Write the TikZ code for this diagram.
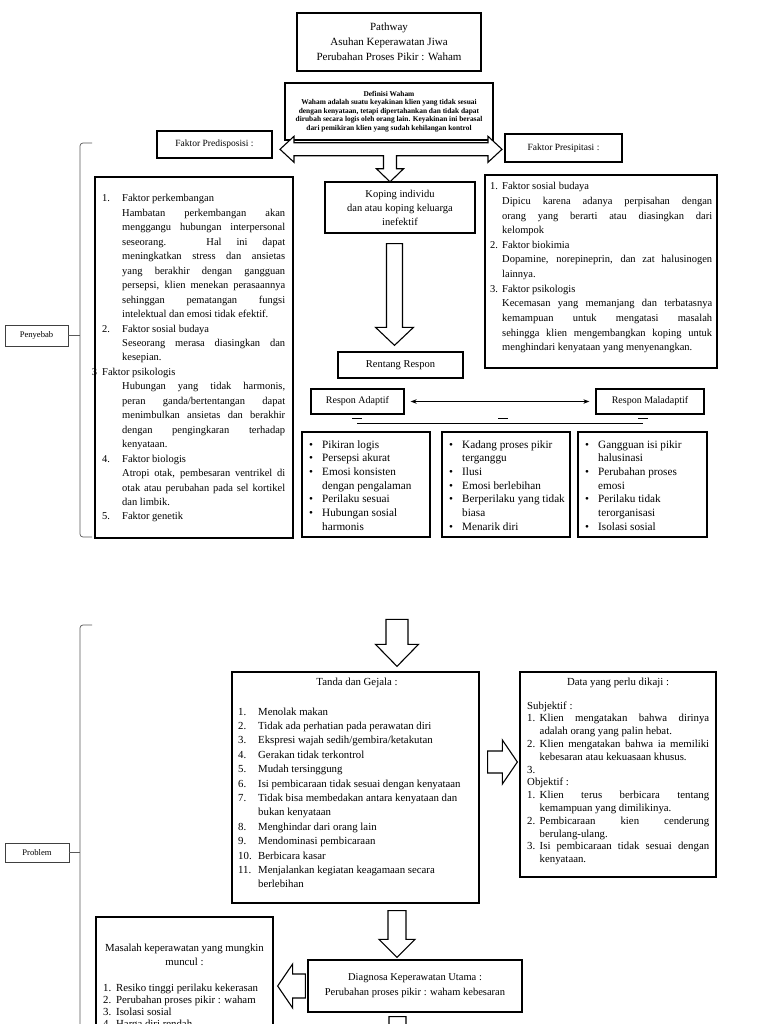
\documentclass[tikz,border=0pt]{standalone}
\usepackage{fontspec}
\setmainfont{Liberation Serif}
\usetikzlibrary{calc,arrows.meta}
\newcommand\numi[2][20pt]{\noindent\llap{\makebox[#1][l]{#2}}\ignorespaces}
\newcommand\bul[1][13pt]{\noindent\llap{\makebox[#1][l]{\textbullet}}\ignorespaces}
\newcommand\lsetup{\parindent=0pt \tolerance=10000 \hbadness=10000 \hyphenpenalty=10000 \exhyphenpenalty=10000 \emergencystretch=0pt }
\newcommand\boxat[6]{\node[#1, minimum width={(#5)-(#3)}, minimum height={(#6)-(#4)}] (#2) at ({((#3)+(#5))/2},{((#4)+(#6))/2})}
% block arrows: #1 start coord, #2 tip coord, #3 stem half width, #4 head half width, #5 head length
\newcommand\bdown[5]{\draw[barrow] ($(#1)+(-#3,0)$) -- ($(#2)+(-#3,-#5)$) -- ($(#2)+(-#4,-#5)$) -- (#2) -- ($(#2)+(#4,-#5)$) -- ($(#2)+(#3,-#5)$) -- ($(#1)+(#3,0)$) -- cycle;}
\newcommand\bright[5]{\draw[barrow] ($(#1)+(0,-#3)$) -- ($(#2)+(-#5,-#3)$) -- ($(#2)+(-#5,-#4)$) -- (#2) -- ($(#2)+(-#5,#4)$) -- ($(#2)+(-#5,#3)$) -- ($(#1)+(0,#3)$) -- cycle;}
\newcommand\bleft[5]{\draw[barrow] ($(#1)+(0,-#3)$) -- ($(#2)+(#5,-#3)$) -- ($(#2)+(#5,-#4)$) -- (#2) -- ($(#2)+(#5,#4)$) -- ($(#2)+(#5,#3)$) -- ($(#1)+(0,#3)$) -- cycle;}
\tikzset{
  box/.style={draw, line width=1.3pt, inner sep=0pt},
  lbl/.style={draw=black!75, line width=0.6pt, inner sep=0pt, font=\fontsize{8.6}{10}\selectfont},
  txt/.style={inner sep=0pt, anchor=base west},
  barrow/.style={draw, line width=1.1pt, fill=white, line join=miter},
  brace/.style={draw=black!65, line width=0.7pt},
  thinline/.style={draw, line width=0.9pt},
}
\begin{document}
\begin{tikzpicture}[x=1pt,y=-1pt]
\useasboundingbox (0,0) rectangle (768,1024);
\clip (0,0) rectangle (768,1024);
\fill[white] (0,0) rectangle (768,1024);

% ---------- top part ----------
\boxat{box,align=center,font=\fontsize{11}{15}\selectfont}{title}{297}{13}{481}{71} {Pathway\\Asuhan Keperawatan Jiwa\\Perubahan Proses Pikir : Waham};

\boxat{box,line width=1.6pt,align=center,font=\bfseries\fontsize{7.4}{8.5}\selectfont}{def}{285}{83}{493}{140} {Definisi Waham\\Waham adalah suatu keyakinan klien yang tidak sesuai\\dengan kenyataan, tetapi dipertahankan dan tidak dapat\\dirubah secara logis oleh orang lain. Keyakinan ini berasal\\dari pemikiran klien yang sudah kehilangan kontrol};

\boxat{box,font=\fontsize{9.5}{11}\selectfont}{predis}{157}{131}{272}{158} {Faktor Predisposisi :};
\boxat{box,font=\fontsize{9.5}{11}\selectfont}{presip}{505}{134}{622}{162} {Faktor Presipitasi :};

% T shaped block arrow under the definition
\begin{scope}[shift={(def.south)}]
\draw[barrow] (-109,8.5) -- (-95,-4.5) -- (-95,2) -- (99,2) -- (99,-4.5) -- (113,8.5) -- (99,21.5) -- (99,15) -- (7.5,15) -- (7.5,28) -- (14.5,28) -- (1,41) -- (-12.5,28) -- (-5.5,28) -- (-5.5,15) -- (-95,15) -- (-95,21.5) -- cycle;
\end{scope}

% left list box
\boxat{box,line width=1.6pt}{lbox}{95}{177}{293}{538} {};
\node[txt] (ltext) at (102,202) {\parbox[t]{183pt}{\lsetup\fontsize{10.5}{14.45}\selectfont\leftskip=20pt
\numi{1.}Faktor perkembangan\par
Hambatan perkembangan akan\linebreak menggangu hubungan interpersonal\linebreak seseorang. Hal ini dapat\linebreak meningkatkan stress dan ansietas\linebreak yang berakhir dengan gangguan\linebreak persepsi, klien menekan perasaannya\linebreak sehinggan pematangan fungsi\linebreak intelektual dan emosi tidak efektif.\par
\numi{2.}Faktor sosial budaya\par
Seseorang merasa diasingkan dan\linebreak kesepian.\par
\noindent\hspace*{-20pt}\llap{3\hspace{5pt}}Faktor psikologis\par
Hubungan yang tidak harmonis,\linebreak peran ganda/bertentangan dapat\linebreak menimbulkan ansietas dan berakhir\linebreak dengan pengingkaran terhadap\linebreak kenyataan.\par
\numi{4.}Faktor biologis\par
Atropi otak, pembesaran ventrikel di\linebreak otak atau perubahan pada sel kortikel\linebreak dan limbik.\par
\numi{5.}Faktor genetik}};

% right list box
\boxat{box,line width=1.6pt}{rbox}{485}{175}{717}{368} {};
\node[txt] (rtext) at (490,190) {\parbox[t]{222pt}{\lsetup\fontsize{10.5}{14.6}\selectfont\leftskip=12pt
\numi[12pt]{1.}Faktor sosial budaya\par
Dipicu karena adanya perpisahan dengan\linebreak orang yang berarti atau diasingkan dari\linebreak kelompok\par
\numi[12pt]{2.}Faktor biokimia\par
Dopamine, norepineprin, dan zat halusinogen\linebreak lainnya.\par
\numi[12pt]{3.}Faktor psikologis\par
Kecemasan yang memanjang dan terbatasnya\linebreak kemampuan untuk mengatasi masalah\linebreak sehingga klien mengembangkan koping untuk\linebreak menghindari kenyataan yang menyenangkan.}};

% penyebab label + brace
\boxat{lbl}{pyb}{5}{325}{68}{346} {Penyebab};
\draw[brace, rounded corners=3pt] (92,143) -- (80,143) -- (80,537) -- (92,537);
\draw[brace] (pyb.east) -- (pyb.east -| 80,0);

% centre column
\boxat{box,align=center,font=\fontsize{10.5}{14}\selectfont}{koping}{325}{182}{475}{233} {Koping individu\\dan atau koping keluarga\\inefektif};
\boxat{box,font=\fontsize{10.5}{12}\selectfont}{rentang}{338}{352}{463}{378} {Rentang Respon};
\coordinate (a1s) at ($(koping.south)+(-5.5,10)$);
\coordinate (a1t) at ($(a1s |- rentang.north)+(0,-6)$);
\bdown{a1s}{a1t}{8}{19}{18}

\boxat{box,font=\fontsize{10}{12}\selectfont}{adapt}{311}{389}{404}{414} {Respon Adaptif};
\boxat{box,font=\fontsize{10}{12}\selectfont}{malad}{596}{389}{704}{414} {Respon Maladaptif};
\draw[line width=1pt, {Stealth[length=6pt,width=4.5pt]}-{Stealth[length=6pt,width=4.5pt]}] ($(adapt.east)+(6,0)$) -- ($(malad.west)+(-6,0)$);

% scale line
\coordinate (sl) at (357,423);
\coordinate (sr) at (643,423);
\draw[thinline] (sl) -- (sr);
\draw[thinline] (352,418.5) -- (362,418.5);
\draw[thinline] (498,418.5) -- (508,418.5);
\draw[thinline] (638,418.5) -- (648,418.5);

% response boxes
\boxat{box}{ra}{302}{432}{430}{537} {};
\boxat{box}{rb}{442}{432}{570}{537} {};
\boxat{box}{rc}{578}{432}{707}{537} {};
\node[txt] (ratext) at (309,448) {\parbox[t]{120pt}{\raggedright\lsetup\fontsize{11.2}{13.7}\selectfont\leftskip=13pt
\bul Pikiran logis\par\bul Persepsi akurat\par\bul Emosi konsisten\newline dengan pengalaman\par\bul Perilaku sesuai\par\bul Hubungan sosial\newline harmonis}};
\node[txt] (rbtext) at (449,448) {\parbox[t]{120pt}{\raggedright\lsetup\fontsize{11.2}{13.7}\selectfont\leftskip=13pt
\bul Kadang proses pikir\newline terganggu\par\bul Ilusi\par\bul Emosi berlebihan\par\bul Berperilaku yang tidak\newline biasa\par\bul Menarik diri}};
\node[txt] (rctext) at (585,448) {\parbox[t]{120pt}{\raggedright\lsetup\fontsize{11.2}{13.7}\selectfont\leftskip=13pt
\bul Gangguan isi pikir\newline halusinasi\par\bul Perubahan proses\newline emosi\par\bul Perilaku tidak\newline terorganisasi\par\bul Isolasi sosial}};

% ---------- bottom part ----------
\boxat{lbl}{prb}{5}{843}{69}{862} {Problem};
\draw[brace, rounded corners=3pt] (92,625) -- (80,625) -- (80,1030);
\draw[brace] (prb.east) -- (prb.east -| 80,0);

\boxat{box}{tanda}{232}{672}{479}{903} {};
\coordinate (a4s) at ($(tanda.north)+(41.5,-52)$);
\coordinate (a4t) at ($(tanda.north)+(41.5,-5)$);
\bdown{a4s}{a4t}{11}{21.5}{22}
\node[font=\fontsize{10.8}{13}\selectfont] (tandat) at (357,683) {Tanda dan Gejala :};
\node[txt] (tandal) at (238,715) {\parbox[t]{238pt}{\raggedright\lsetup\fontsize{10.8}{14.4}\selectfont\leftskip=20pt
\numi{1.}Menolak makan\par
\numi{2.}Tidak ada perhatian pada perawatan diri\par
\numi{3.}Ekspresi wajah sedih/gembira/ketakutan\par
\numi{4.}Gerakan tidak terkontrol\par
\numi{5.}Mudah tersinggung\par
\numi{6.}Isi pembicaraan tidak sesuai dengan kenyataan\par
\numi{7.}Tidak bisa membedakan antara kenyataan dan\newline bukan kenyataan\par
\numi{8.}Menghindar dari orang lain\par
\numi{9.}Mendominasi pembicaraan\par
\numi{10.}Berbicara kasar\par
\numi{11.}Menjalankan kegiatan keagamaan secara\newline berlebihan}};

\boxat{box}{data}{520}{672}{716}{877} {};
\node[font=\fontsize{10.8}{13}\selectfont] (datat) at (618,683) {Data yang perlu dikaji :};
\node[txt] (datal) at (527,709) {\parbox[t]{182pt}{\lsetup\fontsize{10.8}{12.8}\selectfont\leftskip=12.5pt
\noindent\hspace*{-12.5pt}Subjektif :\par
\numi[12.5pt]{1.}Klien mengatakan bahwa dirinya\linebreak adalah orang yang palin hebat.\par
\numi[12.5pt]{2.}Klien mengatakan bahwa ia memiliki\linebreak kebesaran atau kekuasaan khusus.\par
\numi[12.5pt]{3.}\par
\noindent\hspace*{-12.5pt}Objektif :\par
\numi[12.5pt]{1.}Klien terus berbicara tentang\linebreak kemampuan yang dimilikinya.\par
\numi[12.5pt]{2.}Pembicaraan kien cenderung\linebreak berulang-ulang.\par
\numi[12.5pt]{3.}Isi pembicaraan tidak sesuai dengan\linebreak kenyataan.}};

\coordinate (a5s) at ($(tanda.east |- 0,762)+(8,0)$);
\coordinate (a5t) at ($(data.west |- 0,762)+(-2,0)$);
\bright{a5s}{a5t}{11}{22}{15}

\boxat{box,align=center,font=\fontsize{10.5}{15}\selectfont}{diag}{308}{960}{522}{1012} {Diagnosa Keperawatan Utama :\\Perubahan proses pikir : waham kebesaran};
\coordinate (a6s) at ($(tanda.south)+(41.5,7)$);
\coordinate (a6t) at ($(a6s |- diag.north)+(0,-2)$);
\bdown{a6s}{a6t}{9}{18}{18}

\boxat{box}{masalah}{96}{917}{273}{1040} {};
\node[align=center,font=\fontsize{10.8}{14}\selectfont] (masalaht) at (184.5,955) {Masalah keperawatan yang mungkin\\muncul :};
\node[txt] (masalahl) at (103,991) {\parbox[t]{168pt}{\raggedright\lsetup\fontsize{10.8}{12}\selectfont\leftskip=13pt
\numi[13pt]{1.}Resiko tinggi perilaku kekerasan\par
\numi[13pt]{2.}Perubahan proses pikir : waham\par
\numi[13pt]{3.}Isolasi sosial\par
\numi[13pt]{4.}Harga diri rendah}};

\coordinate (a7s) at ($(diag.west |- 0,986)+(-2,0)$);
\coordinate (a7t) at ($(masalah.east |- 0,986)+(4,0)$);
\bleft{a7s}{a7t}{12}{22}{15}

\coordinate (a8s) at ($(diag.south)+(-17.5,4)$);
\coordinate (a8t) at ($(a8s)+(0,50)$);
\bdown{a8s}{a8t}{8.5}{19}{18}
\end{tikzpicture}
\end{document}
